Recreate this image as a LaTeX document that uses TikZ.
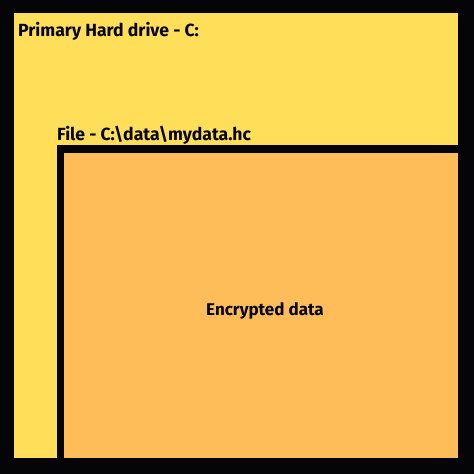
\documentclass[tikz,border=0pt]{standalone}
\usepackage{fontspec}
\setmainfont{Fira Sans}
\definecolor{driveyellow}{HTML}{FFDE59}
\definecolor{fileorange}{HTML}{FFBD59}
\definecolor{inkblack}{HTML}{050508}
\begin{document}
\begin{tikzpicture}[x=1pt,y=1pt,
  lbl/.style={font=\fontsize{17}{20}\selectfont\bfseries, text=inkblack, inner sep=0pt, anchor=base west},
  biglbl/.style={lbl, font=\fontsize{17.6}{20}\selectfont\bfseries}]
\useasboundingbox (0,0) rectangle (474,474);
\fill[inkblack] (0,0) rectangle (474,474);
\fill[driveyellow] (14,16) rectangle (458,461);
\fill[inkblack] (57,0) rectangle (474,329);
\fill[fileorange] (64,16) rectangle (458,321);
\node[biglbl] (drive) at (18,437) {Primary Hard drive - C:};
\node[biglbl] (file) at (57,333) {File - C:\textbackslash data\textbackslash mydata.hc};
\node[lbl, anchor=base] (enc) at (265,158) {Encrypted data};
\end{tikzpicture}
\end{document}
